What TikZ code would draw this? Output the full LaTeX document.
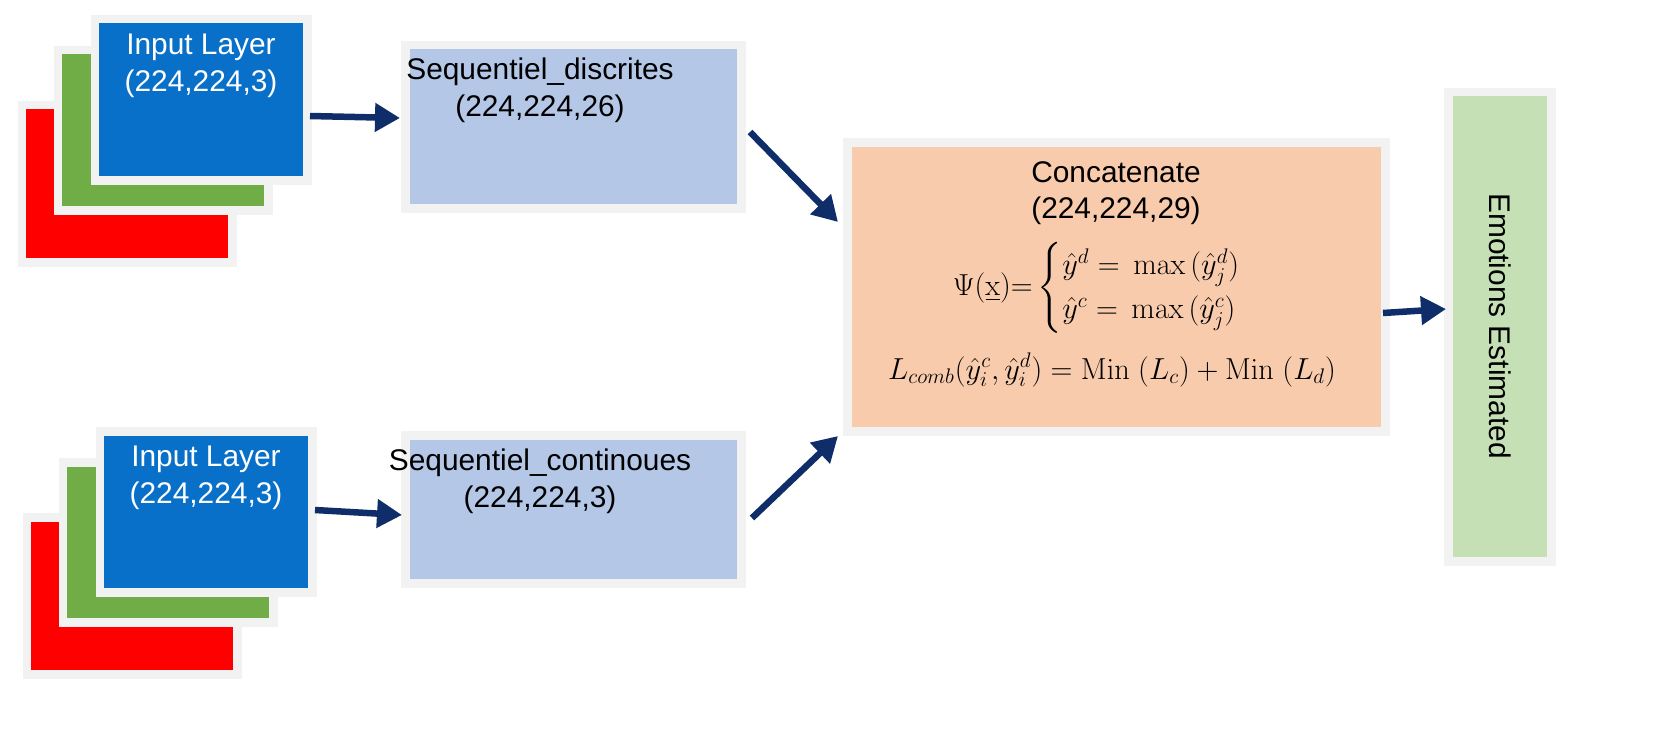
\documentclass[tikz,border=0pt]{standalone}
\usepackage{amsmath}
\usepackage[no-math]{fontspec}
\setmainfont{Liberation Sans}
\usetikzlibrary{arrows.meta}
\definecolor{navy}{HTML}{0F2D69}
\definecolor{lblue}{HTML}{B4C7E7}
\definecolor{peach}{HTML}{F8CBAD}
\definecolor{lgreen}{HTML}{C5E0B4}
\definecolor{mblue}{HTML}{0870C8}
\definecolor{mgreen}{HTML}{70AD47}
\definecolor{frame}{HTML}{F2F2F2}
\begin{document}
\begin{tikzpicture}[x=0.02cm,y=-0.02cm,
  card/.style={draw=frame,line width=0.18cm},
  shadow/.style={fill=black!35},
  arr/.style={draw=navy,line width=0.13cm,-{Triangle[length=0.5cm,width=0.55cm]}},
  lbl/.style={font=\fontsize{17}{21}\selectfont,align=center},
  fml/.style={font=\fontsize{17}{21}\selectfont}]
\useasboundingbox (0,0) rectangle (1654,737);
% top stack
 \fill[shadow] (27,110) rectangle (237,267);
 \filldraw[card,fill=red] (22,105) rectangle (232,262);
 \fill[shadow] (63,55) rectangle (273,215);
 \filldraw[card,fill=mgreen] (58,50) rectangle (268,210);
 \fill[shadow] (100,24) rectangle (312,185);
 \filldraw[card,fill=mblue] (95,19) rectangle (307,180);
 \node[lbl,text=white,anchor=north] (in1) at (201,28) {Input Layer\\(224,224,3)};
 \coordinate (in1e) at (310,116);
% bottom stack
\begin{scope}[shift={(5,412)}]
 \fill[shadow] (27,110) rectangle (237,267);
 \filldraw[card,fill=red] (22,105) rectangle (232,262);
 \fill[shadow] (63,55) rectangle (273,215);
 \filldraw[card,fill=mgreen] (58,50) rectangle (268,210);
 \fill[shadow] (100,24) rectangle (312,185);
 \filldraw[card,fill=mblue] (95,19) rectangle (307,180);
 \node[lbl,text=white,anchor=north] (in2) at (201,28) {Input Layer\\(224,224,3)};
 \coordinate (in2e) at (310,98);
\end{scope}
% seq boxes
\fill[shadow] (410,50) rectangle (746,213);
\filldraw[card,fill=lblue] (405,45) rectangle (741,208);
\node[lbl,anchor=north] (s1) at (540,52) {Sequentiel\_discrites\\(224,224,26)};
\coordinate (s1w) at (400,118);
\fill[shadow] (410,440) rectangle (746,588);
\filldraw[card,fill=lblue] (405,435) rectangle (741,583);
\node[lbl,anchor=north] (s2) at (540,443) {Sequentiel\_continoues\\(224,224,3)};
\coordinate (s2w) at (402,515);
% concatenate
\fill[shadow] (852,147) rectangle (1390,436);
\filldraw[card,fill=peach] (847,142) rectangle (1385,431);
\node[lbl,anchor=north] (cc) at (1116,155) {Concatenate\\(224,224,29)};
\node[fml] (f1) at (1112,288) {$\Psi(\underline{\mathrm{x}}){=}\begin{cases}\hat y^{d} = \,\max\,(\hat y_j^{d})\\ \hat y^{c} = \,\max\,(\hat y_j^{c})\end{cases}$};
\node[fml] (f2) at (1112,370) {$L_{comb}(\hat y_i^{c},\hat y_i^{d}) = \mathrm{Min}\;(L_c)+\mathrm{Min}\;(L_d)$};
% emotions
\fill[shadow] (1453,97) rectangle (1556,566);
\filldraw[card,fill=lgreen] (1448,92) rectangle (1551,561);
\node[lbl,rotate=-90] (em) at (1500,326) {Emotions Estimated};
% arrows
\draw[arr] (in1e) -- (s1w);
\draw[arr] (in2e) -- (s2w);
\draw[arr] (750,132) -- (838,222);
\draw[arr] (752,518) -- (838,436);
\draw[arr] (1383,313) -- (1446,309);
\end{tikzpicture}
\end{document}
